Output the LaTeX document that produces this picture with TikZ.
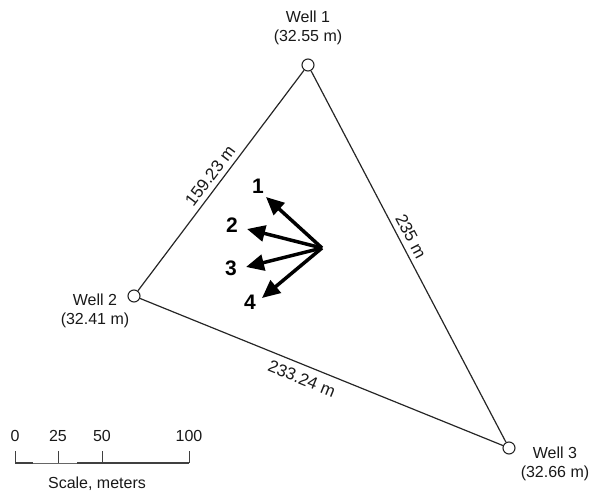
\documentclass[tikz,border=0pt]{standalone}
\usepackage{fontspec}
\setmainfont{Liberation Sans}
\usetikzlibrary{arrows.meta}

\tikzset{
  well/.style={circle,draw=black!85,fill=white,line width=1.1pt,minimum size=12pt,inner sep=0pt},
  welltext/.style={font=\fontsize{16}{19}\selectfont,text=black!90,align=center},
  side/.style={draw=black!85,line width=1.2pt},
  sidetext/.style={font=\fontsize{17}{19}\selectfont,text=black!90,sloped,inner sep=2pt},
  flow/.style={line width=3.5pt,-{Triangle[length=18pt,width=16pt]}},
  flowtext/.style={font=\fontsize{21}{23}\selectfont\bfseries}
}

\begin{document}
\begin{tikzpicture}[x=1pt,y=-1pt]
      \useasboundingbox (0,0) rectangle (606,500);

      %%%%%%%%%%%%%%%%%%%%%%%%%%%%%%%%%%%%%%%%%%%%%%%%%%%%%%%%%%%%%%%%%%%%%%%%%%%
      %%%%  Wells
      \node[well] (w1) at (308,65) {};
      \node[well] (w2) at (134,296) {};
      \node[well] (w3) at (509,448) {};

      \node[welltext] (w1name) at (308,28) {Well 1\\(32.55 m)};
      \node[welltext] (w2name) at (95,311) {Well 2\\(32.41 m)};
      \node[welltext] (w3name) at (555,464) {Well 3\\(32.66 m)};

      \draw[side] (w2) -- node[sidetext,above=3pt,pos=0.49] (d12) {159.23 m} (w1);
      \draw[side] (w1) -- node[sidetext,above=3pt,pos=0.46] (d13) {235 m} (w3);
      \draw[side] (w2) -- node[sidetext,below=5pt,pos=0.46] (d23) {233.24 m} (w3);

      %%%%%%%%%%%%%%%%%%%%%%%%%%%%%%%%%%%%%%%%%%%%%%%%%%%%%%%%%%%%%%%%%%%%%%%%%%%
      %%%%  Flow directions
      \coordinate (origin) at (322,248);
      \foreach \n/\tx/\ty/\lx/\ly in
        {1/266/197/258/186, 2/247/229/232/225, 3/246/267/231/268, 4/262/298/250/302}
       {\coordinate (tip\n) at (\tx,\ty);
        \node[flowtext] (num\n) at (\lx,\ly) {\n};
        \draw[flow] (origin) -- (tip\n);
       };

      %%%%%%%%%%%%%%%%%%%%%%%%%%%%%%%%%%%%%%%%%%%%%%%%%%%%%%%%%%%%%%%%%%%%%%%%%%%
      %%%%  Scale bar
      \foreach \m/\x in {0/15,25/58,50/102,100/189}
       {\node[welltext] (s\m) at (\x,436) {\m};
        \draw[black!75,line width=0.9pt] (\x,451) -- (\x,463);
       };
      \draw[black!75,line width=1.6pt] (15,463) -- (33,463);
      \draw[black!60,line width=0.9pt] (33,463) -- (77,463);
      \draw[black!75,line width=1.6pt] (77,463) -- (189,463);
      \node[welltext] (scalename) at (97,484) {Scale, meters};
    \end{tikzpicture}
\end{document}
